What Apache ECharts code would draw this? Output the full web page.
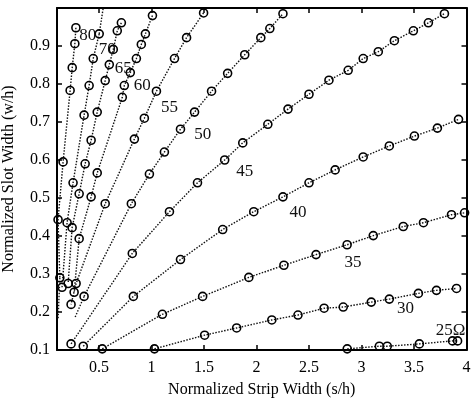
<!DOCTYPE html>
<html>
<head>
<meta charset="utf-8">
<script src="https://cdn.jsdelivr.net/npm/echarts@6/dist/echarts.min.js"></script>
<style>
  html, body { margin: 0; padding: 0; background: #fff; }
  #chart { width: 474px; height: 399px; }
</style>
</head>
<body>
<div id="chart"></div>
<script>
// impedance contours, [s/h, w/h]
const curve80 = [[0.28, 0.948], [0.27, 0.906], [0.245, 0.843], [0.225, 0.783], [0.158, 0.595], [0.11, 0.443], [0.127, 0.29]];
const curve70 = [[0.502, 0.932], [0.445, 0.867], [0.406, 0.796], [0.358, 0.718], [0.253, 0.54], [0.196, 0.435], [0.148, 0.265]];
const curve65 = [[0.713, 0.961], [0.674, 0.94], [0.636, 0.891], [0.598, 0.851], [0.559, 0.809], [0.483, 0.726], [0.425, 0.652], [0.368, 0.59], [0.311, 0.511], [0.244, 0.422], [0.206, 0.275]];
const curve60 = [[1.009, 0.98], [0.942, 0.932], [0.903, 0.904], [0.856, 0.867], [0.798, 0.83], [0.741, 0.796], [0.722, 0.765], [0.483, 0.566], [0.425, 0.503], [0.311, 0.393], [0.263, 0.252]];
const curve55 = [[1.496, 0.987], [1.334, 0.922], [1.219, 0.867], [1.047, 0.781], [0.932, 0.71], [0.837, 0.655], [0.559, 0.485], [0.282, 0.275], [0.234, 0.22]];
const curve50 = [[0.358, 0.241], [0.808, 0.485], [0.98, 0.563], [1.123, 0.621], [1.276, 0.681], [1.41, 0.726], [1.572, 0.781], [1.725, 0.828], [1.888, 0.877], [2.041, 0.922], [2.127, 0.946], [2.252, 0.985]];
const curve45 = [[0.234, 0.116], [0.817, 0.354], [1.171, 0.464], [1.438, 0.54], [1.697, 0.6], [1.869, 0.645], [2.108, 0.694], [2.3, 0.734], [2.5, 0.773], [2.69, 0.81], [2.873, 0.836], [3.016, 0.867], [3.16, 0.885], [3.313, 0.914], [3.494, 0.94], [3.637, 0.961], [3.79, 0.985]];
const curve40 = [[0.35, 0.11], [0.827, 0.241], [1.276, 0.338], [1.678, 0.417], [1.974, 0.464], [2.252, 0.503], [2.5, 0.54], [2.749, 0.574], [3.016, 0.608], [3.265, 0.637], [3.504, 0.663], [3.723, 0.684], [3.924, 0.707]];
const curve35 = [[0.531, 0.103], [1.104, 0.194], [1.487, 0.241], [1.927, 0.291], [2.261, 0.323], [2.567, 0.351], [2.863, 0.377], [3.112, 0.401], [3.398, 0.425], [3.59, 0.435], [3.857, 0.456], [3.982, 0.461]];
const curve30 = [[1.028, 0.103], [1.506, 0.139], [1.811, 0.158], [2.146, 0.179], [2.395, 0.192], [2.644, 0.21], [2.826, 0.213], [3.093, 0.226], [3.265, 0.234], [3.542, 0.249], [3.714, 0.257], [3.905, 0.262]];
const curve25 = [[2.864, 0.103], [3.17, 0.11], [3.245, 0.11], [3.551, 0.116], [3.867, 0.124], [3.915, 0.124]];

// dotted line pieces that carry no markers
const tail80 = [[0.127, 0.29], [0.11, 0.18]];
const tail70 = [[0.502, 0.932], [0.54, 1.0]];
const tail50 = [[0.358, 0.241], [0.272, 0.186]];

const labelText = ["80", "70", "65", "60", "55", "50", "45", "40", "35", "30", "25Ω"];
const labelX = [0.392, 0.578, 0.732, 0.913, 1.171, 1.487, 1.889, 2.395, 2.92, 3.418, 3.848];
const labelY = [0.927, 0.891, 0.841, 0.796, 0.739, 0.668, 0.569, 0.461, 0.33, 0.21, 0.15];

const xTicks = [0.5, 1, 1.5, 2, 2.5, 3, 3.5, 4];
const yTicks = [0.1, 0.2, 0.3, 0.4, 0.5, 0.6, 0.7, 0.8, 0.9];

const curves = [curve80, curve70, curve65, curve60, curve55, curve50, curve45, curve40, curve35, curve30, curve25];
const tails = [tail80, tail70, tail50];

const font = "Liberation Serif";
const dots = { color: "#111", width: 1.4, type: [1.5, 1.5] };

const chart = echarts.init(document.getElementById("chart"));

const boxAxis = (ticks, show) => ({
  type: "value",
  axisLine: { show: true, onZero: false, lineStyle: { color: "#000", width: 2 } },
  axisTick: { show: true, inside: true, length: 5, customValues: ticks, lineStyle: { color: "#000", width: 1.5 } },
  axisLabel: { show: show, customValues: ticks, color: "#000", fontFamily: font, fontSize: 16 },
  splitLine: { show: false },
});

const series = [];
tails.forEach((t) => {
  series.push({ type: "line", data: t, showSymbol: false, lineStyle: dots, silent: true, z: 2 });
});
curves.forEach((c, i) => {
  series.push({
    name: labelText[i],
    type: "line",
    data: c,
    symbol: "circle",
    symbolSize: 8,
    lineStyle: dots,
    itemStyle: { color: "rgba(0,0,0,0)", borderColor: "#000", borderWidth: 1.6 },
    z: 3,
  });
});
series.push({
  type: "scatter",
  data: labelX.map((x, i) => [x, labelY[i], labelText[i]]),
  symbolSize: 1,
  itemStyle: { color: "#fff", opacity: 1 },
  label: {
    show: true,
    position: "inside",
    formatter: (p) => p.value[2],
    color: "#111",
    fontFamily: font,
    fontSize: 17,
  },
  z: 4,
});

chart.setOption({
  animation: false,
  backgroundColor: "#fff",
  grid: { left: 57, right: 7.5, top: 8, bottom: 49, outerBoundsMode: "none", containLabel: false },
  xAxis: [
    Object.assign(boxAxis(xTicks, true), {
      position: "bottom", min: 0.1, max: 4,
      axisLabel: { customValues: xTicks, color: "#000", fontFamily: font, fontSize: 16, margin: 10 },
      name: "Normalized Strip Width (s/h)",
      nameLocation: "middle",
      nameGap: 32,
      nameTextStyle: { color: "#000", fontFamily: font, fontSize: 16 },
    }),
    Object.assign(boxAxis(xTicks, false), { position: "top", min: 0.1, max: 4 }),
  ],
  yAxis: [
    Object.assign(boxAxis(yTicks, true), {
      position: "left", min: 0.1, max: 1,
      axisLabel: { customValues: yTicks, color: "#000", fontFamily: font, fontSize: 16, margin: 7 },
      name: "Normalized Slot Width (w/h)",
      nameLocation: "middle",
      nameGap: 40,
      nameTextStyle: { color: "#000", fontFamily: font, fontSize: 16 },
    }),
    Object.assign(boxAxis(yTicks, false), { position: "right", min: 0.1, max: 1 }),
  ],
  series: series,
});
</script>
</body>
</html>
